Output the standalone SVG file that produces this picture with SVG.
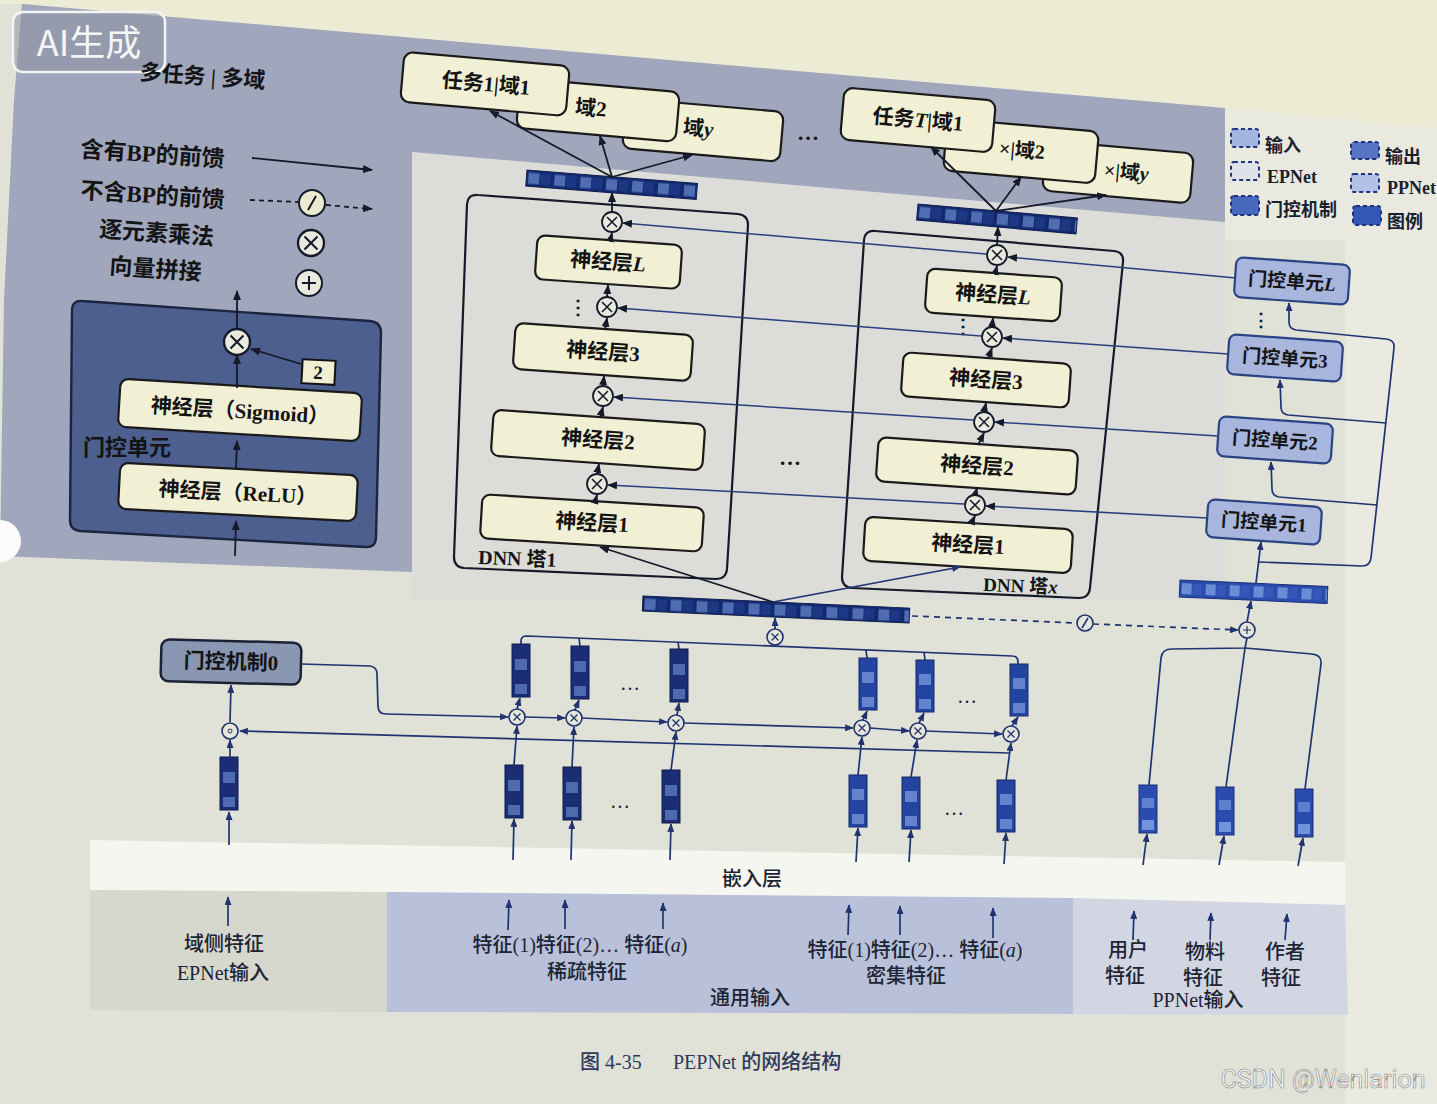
<svg xmlns="http://www.w3.org/2000/svg" width="1437" height="1104" viewBox="0 0 1437 1104">
<defs>
<style>
.t{font-family:"Liberation Serif","Noto Sans CJK SC",serif;font-weight:700;fill:#141414;text-anchor:middle;}
.st{text-anchor:start;}
.lay{fill:#f1f0d4;stroke:#1a1a1a;stroke-width:2.2;}
.gu{fill:#a8b6de;stroke:#2a4383;stroke-width:2.2;}
.ln{fill:none;stroke:#151a2a;stroke-width:1.8;}
.lb{fill:none;stroke:#1f3370;stroke-width:1.7;}
.lg{fill:none;stroke:#27407c;stroke-width:1.5;}
.bt{font-family:"Liberation Serif","Noto Sans CJK SC",serif;font-weight:500;fill:#1d2434;text-anchor:middle;font-size:20px;}
.cap{fill:#2f3a5a;text-anchor:start;}
.lgd{stroke:#1f3580;stroke-width:2;stroke-dasharray:4 3;}
.it{font-style:italic;}
</style>
<marker id="a" viewBox="0 0 10 8" refX="9" refY="4" markerWidth="10" markerHeight="8" orient="auto" markerUnits="userSpaceOnUse"><path d="M0,0 L10,4 L0,8 z" fill="#151a2a"/></marker>
<marker id="b" viewBox="0 0 10 8" refX="9" refY="4" markerWidth="9" markerHeight="7" orient="auto" markerUnits="userSpaceOnUse"><path d="M0,0 L10,4 L0,8 z" fill="#1f3370"/></marker>
<pattern id="pb" width="26" height="17" patternUnits="userSpaceOnUse"><rect width="26" height="17" fill="#142a6e"/><rect x="2" y="2.5" width="11" height="11" fill="#4f6db3"/><rect x="14" y="2.5" width="10" height="11" fill="#1d3785"/></pattern>
<pattern id="pp" width="24" height="17" patternUnits="userSpaceOnUse"><rect width="24" height="17" fill="#2a4cad"/><rect x="2" y="3" width="10" height="11" fill="#6b8bd5"/><rect x="13" y="3" width="9" height="11" fill="#3656b8"/></pattern>
<g id="ot"><circle r="10" fill="#e9e9dd" stroke="#151a2a" stroke-width="1.8"/><path d="M-5,-5 L5,5 M5,-5 L-5,5" stroke="#151a2a" stroke-width="1.6"/></g>
<g id="otb"><circle r="8" fill="#e6e6da" stroke="#1f3370" stroke-width="1.6"/><path d="M-3.5,-3.5 L3.5,3.5 M3.5,-3.5 L-3.5,3.5" stroke="#1f3370" stroke-width="1.3"/></g>
<g id="eS"><rect width="18" height="53" fill="#1b2e75" stroke="#0e1a4a" stroke-width="1"/><rect x="3" y="15" width="12" height="11" fill="#4f6bb0"/><rect x="3" y="40" width="12" height="10" fill="#4f6bb0"/></g>
<g id="eD"><rect width="18" height="52" fill="#2444a2" stroke="#15286a" stroke-width="1"/><rect x="3" y="14" width="12" height="11" fill="#6583cc"/><rect x="3" y="39" width="12" height="10" fill="#6583cc"/></g>
<g id="eP"><rect width="18" height="48" fill="#2a4cae" stroke="#1a2f78" stroke-width="1"/><rect x="3" y="13" width="12" height="10" fill="#5f80cf"/><rect x="3" y="35" width="12" height="10" fill="#7394da"/></g>
</defs>

<!-- background -->
<rect width="1437" height="1104" fill="#e0e1d7"/>
<polygon points="0,0 1437,0 1437,130 1225,108 22,4 0,4" fill="#ecebd3"/>
<polygon points="1225,108 1437,128 1437,1104 1345,1104 1345,240 1225,240" fill="#e9e9e0"/>
<polygon points="412,152 1225,222 1225,600 412,600" fill="#dcddd9"/>
<polygon points="22,4 1225,108 1225,222 412,152 412,572 0,556 4,300 14,100" fill="#a0a6bc"/>
<polygon points="90,840 1345,862 1345,905 90,890" fill="#f6f6f1"/>
<polygon points="90,890 387,892 387,1012 90,1010" fill="#d6d7cd"/>
<polygon points="387,892 1073,898 1073,1014 387,1012" fill="#b8c0da"/>
<polygon points="1073,898 1345,905 1348,1015 1073,1014" fill="#d2d6e2"/>
<circle cx="0" cy="541" r="21" fill="#fbfbfb"/>

<!-- badge -->
<g id="badge"><rect x="13" y="12" width="152" height="60" rx="10" fill="#8a8f9e" fill-opacity="0.5" stroke="#f4f4f4" stroke-width="2.5"/><text x="89" y="56" font-family="Noto Sans CJK SC,sans-serif" font-size="36" fill="#f5f5f5" text-anchor="middle">AI生成</text></g>

<!-- left legend -->
<g id="legend-left">
<text class="t" font-size="22" transform="translate(202,84) rotate(4)">多任务 | 多域</text>
<text class="t" font-size="23" transform="translate(152,162) rotate(4)">含有BP的前馈</text>
<text class="t" font-size="23" transform="translate(152,203) rotate(4)">不含BP的前馈</text>
<text class="t" font-size="23" transform="translate(156,241) rotate(4)">逐元素乘法</text>
<text class="t" font-size="23" transform="translate(155,277) rotate(4)">向量拼接</text>
<line x1="252" y1="158" x2="372" y2="170" class="ln" marker-end="url(#a)"/>
<line x1="250" y1="200" x2="298" y2="202" class="ln" stroke-dasharray="5 4"/>
<circle cx="312" cy="203" r="13" fill="#ecebd0" stroke="#151a2a" stroke-width="2"/>
<line x1="308" y1="210" x2="316" y2="196" stroke="#151a2a" stroke-width="2"/>
<line x1="326" y1="205" x2="372" y2="209" class="ln" stroke-dasharray="5 4" marker-end="url(#a)"/>
<use href="#ot" transform="translate(311,243) scale(1.3)"/>
<circle cx="309" cy="283" r="13" fill="#e9e9dd" stroke="#151a2a" stroke-width="2"/>
<path d="M302,283 L316,283 M309,276 L309,290" stroke="#151a2a" stroke-width="2"/>
</g>

<!-- gate unit detail panel -->
<g id="gate-panel">
<path d="M82,301 L370,321 Q381,322 381,333 L376,537 Q376,548 365,547 L80,531 Q70,530 70,520 L72,311 Q72,300 82,301 Z" fill="#4c5f8e" stroke="#1c2540" stroke-width="2.4"/>
<text class="t" font-size="22" x="127" y="455">门控单元</text>
</g>
<g id="relu" transform="translate(238,492) rotate(3)"><rect x="-119" y="-23" width="238" height="46" rx="8" class="lay"/><text class="t" font-size="21" y="8">神经层（ReLU）</text></g>
<g id="sigmoid" transform="translate(240,410) rotate(3.5)"><rect x="-121" y="-24" width="242" height="48" rx="8" class="lay"/><text class="t" font-size="21" y="8">神经层（Sigmoid）</text></g>
<g id="two" transform="translate(318,372) rotate(3)"><rect x="-16" y="-12" width="33" height="24" fill="#f0efd2" stroke="#111" stroke-width="2"/><text class="t" font-size="19" y="7">2</text></g>
<g id="panel-mul"><use href="#ot" transform="translate(237,342) scale(1.3)"/></g>

<!-- output boxes -->
<g id="out-y" transform="translate(703,130) rotate(5)"><rect x="-79" y="-25" width="158" height="50" rx="9" class="lay"/><text class="t st" font-size="21" x="-20" y="6">域<tspan class="it">y</tspan></text></g>
<g id="out-2" transform="translate(598,110) rotate(5)"><rect x="-80" y="-25" width="160" height="50" rx="9" class="lay"/><text class="t st" font-size="21" x="-23" y="6">域2</text></g>
<g id="out-1" transform="translate(486,84) rotate(5)"><rect x="-84" y="-25" width="166" height="50" rx="9" class="lay"/><text class="t" font-size="21" y="7">任务1|域1</text></g>
<g id="outT-y" transform="translate(1118,172) rotate(5)"><rect x="-74" y="-25" width="148" height="50" rx="9" class="lay"/><text class="t st" font-size="20" x="-14" y="6">×|域<tspan class="it">y</tspan></text></g>
<g id="outT-2" transform="translate(1021,151) rotate(5)"><rect x="-76" y="-26" width="152" height="52" rx="9" class="lay"/><text class="t st" font-size="20" x="-22" y="6">×|域2</text></g>
<g id="outT-1" transform="translate(918,120) rotate(5)"><rect x="-76" y="-26" width="152" height="52" rx="9" class="lay"/><text class="t" font-size="21" y="7">任务<tspan class="it">T</tspan>|域1</text></g>
<text class="t" font-size="22" x="808" y="140">…</text>

<!-- towers -->
<g id="tower1">
<path d="M478,195 L738,214 Q748,215 748,225 L727,569 Q726,579 716,579 L464,568 Q454,567 454,557 L467,204 Q468,194 478,195 Z" fill="none" stroke="#151a2a" stroke-width="2.2"/>
<text class="t st" font-size="20" x="478" y="564" transform="rotate(2 478 564)">DNN 塔1</text>
</g>
<g id="t1L" transform="translate(608,262) rotate(4)"><rect x="-72" y="-22" width="145" height="44" rx="8" class="lay"/><text class="t" font-size="21" y="7">神经层<tspan class="it">L</tspan></text></g>
<g id="t13" transform="translate(603,352) rotate(4)"><rect x="-89" y="-23" width="178" height="46" rx="8" class="lay"/><text class="t" font-size="21" y="7">神经层3</text></g>
<g id="t12" transform="translate(598,440) rotate(4)"><rect x="-106" y="-23" width="212" height="46" rx="8" class="lay"/><text class="t" font-size="21" y="7">神经层2</text></g>
<g id="t11" transform="translate(592,523) rotate(3.5)"><rect x="-111" y="-22" width="222" height="44" rx="8" class="lay"/><text class="t" font-size="21" y="7">神经层1</text></g>
<text class="t" font-size="20" x="578" y="314">⋮</text>

<g id="tower2">
<path d="M875,231 L1114,251 Q1124,252 1123,262 L1090,588 Q1089,598 1079,598 L852,588 Q842,587 842,577 L864,240 Q865,230 875,231 Z" fill="none" stroke="#151a2a" stroke-width="2.2"/>
<text class="t st" font-size="19" x="983" y="591" transform="rotate(2 983 591)">DNN 塔<tspan class="it">x</tspan></text>
</g>
<g id="t2L" transform="translate(993,295) rotate(4)"><rect x="-67" y="-22" width="135" height="44" rx="8" class="lay"/><text class="t" font-size="21" y="7">神经层<tspan class="it">L</tspan></text></g>
<g id="t23" transform="translate(986,380) rotate(4)"><rect x="-84" y="-22" width="168" height="44" rx="8" class="lay"/><text class="t" font-size="21" y="7">神经层3</text></g>
<g id="t22" transform="translate(977,466) rotate(4)"><rect x="-100" y="-22" width="200" height="44" rx="8" class="lay"/><text class="t" font-size="21" y="7">神经层2</text></g>
<g id="t21" transform="translate(968,545) rotate(3.5)"><rect x="-104" y="-22" width="208" height="44" rx="8" class="lay"/><text class="t" font-size="21" y="7">神经层1</text></g>
<text class="t" font-size="20" x="963" y="333">⋮</text>
<text class="t" font-size="22" x="790" y="465">…</text>

<!-- concat bars -->
<g id="bar-t1" transform="translate(527,170) rotate(4.5)"><rect width="171" height="16" fill="url(#pb)" stroke="#0e1c50" stroke-width="1"/></g>
<g id="bar-t2" transform="translate(918,204) rotate(5)"><rect width="160" height="16" fill="url(#pb)" stroke="#0e1c50" stroke-width="1"/></g>
<g id="bar-mid" transform="translate(643,596) rotate(2.6)"><rect width="267" height="15" fill="url(#pb)" stroke="#0e1c50" stroke-width="1"/></g>
<g id="bar-pp" transform="translate(1180,580) rotate(2.5)"><rect width="148" height="17" fill="url(#pp)" stroke="#1a2f78" stroke-width="1"/></g>

<!-- right gate units -->
<g id="guL" transform="translate(1292,281) rotate(4)"><rect x="-57" y="-20" width="114" height="40" rx="7" class="gu"/><text class="t" font-size="19" y="7">门控单元<tspan class="it">L</tspan></text></g>
<g id="gu3" transform="translate(1285,358) rotate(4)"><rect x="-57" y="-20" width="114" height="40" rx="7" class="gu"/><text class="t" font-size="19" y="7">门控单元3</text></g>
<g id="gu2" transform="translate(1275,440) rotate(4)"><rect x="-57" y="-20" width="114" height="40" rx="7" class="gu"/><text class="t" font-size="19" y="7">门控单元2</text></g>
<g id="gu1" transform="translate(1264,522) rotate(4)"><rect x="-57" y="-19" width="114" height="38" rx="7" class="gu"/><text class="t" font-size="19" y="7">门控单元1</text></g>
<text class="t" font-size="18" x="1261" y="326">⋮</text>

<!-- right legend -->
<g id="legend-right" font-family="Liberation Serif,Noto Sans CJK SC,serif" font-size="18" font-weight="700" fill="#1a1f30">
<rect x="1231" y="129" width="28" height="18" rx="3" fill="#a4b6e0" class="lgd"/><text x="1265" y="152">输入</text>
<rect x="1231" y="162" width="28" height="18" rx="3" fill="#dfe2ea" class="lgd"/><text x="1267" y="183">EPNet</text>
<rect x="1231" y="196" width="28" height="19" rx="3" fill="#4768bd" class="lgd"/><text x="1265" y="216">门控机制</text>
<rect x="1351" y="142" width="28" height="17" rx="3" fill="#5673c4" class="lgd"/><text x="1385" y="163">输出</text>
<rect x="1351" y="174" width="28" height="18" rx="3" fill="#b3c1e6" class="lgd"/><text x="1387" y="194">PPNet</text>
<rect x="1353" y="206" width="28" height="19" rx="3" fill="#3658b5" class="lgd"/><text x="1387" y="228">图例</text>
</g>

<!-- bottom nodes -->
<g id="gate0" transform="translate(231,662) rotate(1.5)"><rect x="-70" y="-21" width="140" height="42" rx="8" fill="#8a97b3" stroke="#1c2233" stroke-width="2.5"/><text class="t" font-size="21" y="7">门控机制0</text></g>
<g id="emb-ep"><use href="#eS" x="220" y="757"/></g>
<g id="emb-sparse">
<use href="#eS" x="512" y="644"/><use href="#eS" x="571" y="646"/><use href="#eS" x="670" y="649"/>
<use href="#eS" x="505" y="765"/><use href="#eS" x="563" y="767"/><use href="#eS" x="662" y="770"/>
</g>
<g id="emb-dense">
<use href="#eD" x="859" y="658"/><use href="#eD" x="916" y="660"/><use href="#eD" x="1010" y="664"/>
<use href="#eD" x="849" y="775"/><use href="#eD" x="902" y="777"/><use href="#eD" x="997" y="780"/>
</g>
<g id="emb-pp"><use href="#eP" x="1139" y="785"/><use href="#eP" x="1216" y="787"/><use href="#eP" x="1295" y="789"/></g>
<text class="bt" x="630" y="690">…</text><text class="bt" x="620" y="808">…</text>
<text class="bt" x="967" y="703">…</text><text class="bt" x="954" y="815">…</text>

<!-- connectors -->
<g id="connectors">
<line x1="235" y1="556" x2="236" y2="521" class="ln" marker-end="url(#a)"/>
<line x1="236" y1="469" x2="237" y2="441" class="ln" marker-end="url(#a)"/>
<line x1="237" y1="388" x2="237" y2="355" class="ln" marker-end="url(#a)"/>
<line x1="237" y1="329" x2="237" y2="291" class="ln" marker-end="url(#a)"/>
<line x1="301" y1="364" x2="251" y2="349" class="ln" marker-end="url(#a)"/>
<line x1="612" y1="177" x2="490" y2="111" class="ln" marker-end="url(#a)"/>
<line x1="612" y1="177" x2="600" y2="136" class="ln" marker-end="url(#a)"/>
<line x1="612" y1="177" x2="692" y2="155" class="ln" marker-end="url(#a)"/>
<line x1="996" y1="211" x2="931" y2="147" class="ln" marker-end="url(#a)"/>
<line x1="996" y1="211" x2="1021" y2="177" class="ln" marker-end="url(#a)"/>
<line x1="996" y1="211" x2="1106" y2="195" class="ln" marker-end="url(#a)"/>
<line x1="612" y1="212" x2="612" y2="193" class="ln" marker-end="url(#a)"/>
<line x1="610" y1="241" x2="612" y2="233" class="ln" marker-end="url(#a)"/>
<line x1="607" y1="297" x2="608" y2="285" class="ln" marker-end="url(#a)"/>
<line x1="605" y1="330" x2="607" y2="318" class="ln" marker-end="url(#a)"/>
<line x1="603" y1="386" x2="604" y2="376" class="ln" marker-end="url(#a)"/>
<line x1="600" y1="418" x2="603" y2="407" class="ln" marker-end="url(#a)"/>
<line x1="597" y1="474" x2="599" y2="464" class="ln" marker-end="url(#a)"/>
<line x1="595" y1="502" x2="597" y2="495" class="ln" marker-end="url(#a)"/>
<line x1="997" y1="245" x2="998" y2="227" class="ln" marker-end="url(#a)"/>
<line x1="995" y1="274" x2="997" y2="266" class="ln" marker-end="url(#a)"/>
<line x1="992" y1="327" x2="993" y2="318" class="ln" marker-end="url(#a)"/>
<line x1="988" y1="359" x2="992" y2="348" class="ln" marker-end="url(#a)"/>
<line x1="984" y1="412" x2="986" y2="403" class="ln" marker-end="url(#a)"/>
<line x1="978" y1="445" x2="984" y2="433" class="ln" marker-end="url(#a)"/>
<line x1="975" y1="495" x2="977" y2="488" class="ln" marker-end="url(#a)"/>
<line x1="971" y1="524" x2="975" y2="516" class="ln" marker-end="url(#a)"/>
<line x1="1236" y1="278" x2="1008" y2="257" class="lg" marker-end="url(#a)"/>
<line x1="986" y1="254" x2="623" y2="223" class="lg" marker-end="url(#a)"/>
<line x1="1228" y1="354" x2="1003" y2="338" class="lg" marker-end="url(#a)"/>
<line x1="981" y1="336" x2="618" y2="308" class="lg" marker-end="url(#a)"/>
<line x1="1218" y1="436" x2="995" y2="422" class="lg" marker-end="url(#a)"/>
<line x1="973" y1="420" x2="614" y2="397" class="lg" marker-end="url(#a)"/>
<line x1="1207" y1="518" x2="986" y2="506" class="lg" marker-end="url(#a)"/>
<line x1="964" y1="504" x2="608" y2="485" class="lg" marker-end="url(#a)"/>
<line x1="773" y1="602" x2="600" y2="547" class="ln" marker-end="url(#a)"/>
<line x1="773" y1="602" x2="960" y2="567" class="lb" marker-end="url(#b)"/>
<line x1="775" y1="629" x2="775" y2="618" class="lb" marker-end="url(#b)"/>
<line x1="912" y1="616" x2="1077" y2="623" class="lb" stroke-dasharray="6 5"/>
<circle cx="1085" cy="623" r="8" fill="#e6e6da" stroke="#1f3370" stroke-width="1.6"/>
<line x1="1082" y1="628" x2="1088" y2="618" stroke="#1f3370" stroke-width="1.6"/>
<line x1="1093" y1="624" x2="1238" y2="630" class="lb" stroke-dasharray="6 5" marker-end="url(#b)"/>
<line x1="1247" y1="622" x2="1251" y2="601" class="lb" marker-end="url(#b)"/>
<line x1="1256" y1="583" x2="1261" y2="542" class="lb" marker-end="url(#b)"/>
<path d="M1259,562 L1362,566 Q1370,566 1371,558 L1394,348 Q1395,340 1386,339 L1296,330 Q1289,329 1289,322 L1289,303" class="lb" marker-end="url(#b)"/>
<path d="M1377,505 L1279,497 Q1272,496 1272,489 L1271,462" class="lb" marker-end="url(#b)"/>
<path d="M1386,423 L1288,415 Q1281,414 1281,407 L1280,380" class="lb" marker-end="url(#b)"/>
<path d="M1247,638 L1245,648 L1172,649 Q1162,649 1161,658 L1149,785" class="lb"/>
<path d="M1245,648 L1226,787" class="lb"/>
<path d="M1245,648 L1312,654 Q1322,655 1321,664 L1305,789" class="lb"/>
<line x1="229" y1="845" x2="229" y2="812" class="lb" marker-end="url(#b)"/>
<line x1="230" y1="757" x2="230" y2="740" class="lb" marker-end="url(#b)"/>
<line x1="230" y1="722" x2="231" y2="685" class="lb" marker-end="url(#b)"/>
<path d="M301,664 L370,666 Q377,667 377,674 L378,706 Q378,714 386,714 L508,717" class="lb" marker-end="url(#b)"/>
<line x1="525" y1="717" x2="565" y2="718" class="lb" marker-end="url(#b)"/>
<line x1="582" y1="718" x2="667" y2="722" class="lb" marker-end="url(#b)"/>
<line x1="684" y1="723" x2="853" y2="728" class="lb" marker-end="url(#b)"/>
<line x1="870" y1="728" x2="909" y2="731" class="lb" marker-end="url(#b)"/>
<line x1="926" y1="731" x2="1002" y2="734" class="lb" marker-end="url(#b)"/>
<line x1="1009" y1="753" x2="240" y2="731" class="lb" marker-end="url(#b)"/>
<path d="M521,644 L521,641 Q521,636 527,636 L1012,656 Q1018,656 1018,662 L1018,665" class="lb"/>
<path d="M579,638 L580,646 M678,642 L679,649 M866,650 L867,658 M924,652 L925,660" class="lb"/>
<line x1="514" y1="765" x2="517" y2="726" class="lb" marker-end="url(#b)"/>
<line x1="517" y1="709" x2="520" y2="698" class="lb" marker-end="url(#b)"/>
<line x1="572" y1="767" x2="574" y2="727" class="lb" marker-end="url(#b)"/>
<line x1="575" y1="710" x2="579" y2="700" class="lb" marker-end="url(#b)"/>
<line x1="671" y1="770" x2="676" y2="732" class="lb" marker-end="url(#b)"/>
<line x1="677" y1="715" x2="679" y2="703" class="lb" marker-end="url(#b)"/>
<line x1="858" y1="775" x2="862" y2="737" class="lb" marker-end="url(#b)"/>
<line x1="863" y1="720" x2="867" y2="711" class="lb" marker-end="url(#b)"/>
<line x1="911" y1="777" x2="917" y2="740" class="lb" marker-end="url(#b)"/>
<line x1="919" y1="723" x2="924" y2="713" class="lb" marker-end="url(#b)"/>
<line x1="1006" y1="780" x2="1011" y2="743" class="lb" marker-end="url(#b)"/>
<line x1="1012" y1="726" x2="1018" y2="717" class="lb" marker-end="url(#b)"/>
<line x1="513" y1="860" x2="514" y2="819" class="lb" marker-end="url(#b)"/>
<line x1="571" y1="860" x2="572" y2="821" class="lb" marker-end="url(#b)"/>
<line x1="670" y1="860" x2="671" y2="824" class="lb" marker-end="url(#b)"/>
<line x1="856" y1="862" x2="858" y2="828" class="lb" marker-end="url(#b)"/>
<line x1="909" y1="862" x2="911" y2="830" class="lb" marker-end="url(#b)"/>
<line x1="1004" y1="864" x2="1006" y2="833" class="lb" marker-end="url(#b)"/>
<line x1="1143" y1="865" x2="1147" y2="834" class="lb" marker-end="url(#b)"/>
<line x1="1219" y1="865" x2="1224" y2="836" class="lb" marker-end="url(#b)"/>
<line x1="1298" y1="866" x2="1303" y2="838" class="lb" marker-end="url(#b)"/>
<line x1="228" y1="926" x2="228" y2="897" class="lb" marker-end="url(#b)"/>
<line x1="508" y1="930" x2="509" y2="900" class="lb" marker-end="url(#b)"/>
<line x1="565" y1="929" x2="565" y2="900" class="lb" marker-end="url(#b)"/>
<line x1="663" y1="929" x2="663" y2="903" class="lb" marker-end="url(#b)"/>
<line x1="848" y1="935" x2="849" y2="905" class="lb" marker-end="url(#b)"/>
<line x1="900" y1="935" x2="900" y2="906" class="lb" marker-end="url(#b)"/>
<line x1="993" y1="938" x2="993" y2="908" class="lb" marker-end="url(#b)"/>
<line x1="1133" y1="940" x2="1134" y2="911" class="lb" marker-end="url(#b)"/>
<line x1="1210" y1="940" x2="1211" y2="913" class="lb" marker-end="url(#b)"/>
<line x1="1285" y1="940" x2="1287" y2="914" class="lb" marker-end="url(#b)"/>
</g>

<!-- operators -->
<g id="ops">
<use href="#ot" x="612" y="222"/><use href="#ot" x="607" y="307"/><use href="#ot" x="603" y="396"/><use href="#ot" x="597" y="484"/>
<use href="#ot" x="997" y="255"/><use href="#ot" x="992" y="337"/><use href="#ot" x="984" y="422"/><use href="#ot" x="975" y="505"/>
<use href="#otb" x="775" y="637"/>
<use href="#otb" x="517" y="717"/><use href="#otb" x="574" y="718"/><use href="#otb" x="676" y="723"/>
<use href="#otb" x="862" y="728"/><use href="#otb" x="918" y="731"/><use href="#otb" x="1011" y="734"/>
<circle cx="230" cy="731" r="8" fill="#e6e6da" stroke="#1f3370" stroke-width="1.6"/><circle cx="230" cy="731" r="2" fill="none" stroke="#1f3370" stroke-width="1"/>
<circle cx="1247" cy="630" r="8" fill="#e6e6da" stroke="#1f3370" stroke-width="1.6"/><path d="M1243,630 L1251,630 M1247,626 L1247,634" stroke="#1f3370" stroke-width="1.2"/>
</g>

<!-- bottom labels -->
<g id="labels">
<text class="bt" font-size="21" x="224" y="951">域侧特征</text>
<text class="bt" x="223" y="980">EPNet输入</text>
<text class="bt" x="580" y="952">特征(1)特征(2)… 特征(<tspan class="it">a</tspan>)</text>
<text class="bt" x="587" y="979">稀疏特征</text>
<text class="bt" x="915" y="957">特征(1)特征(2)… 特征(<tspan class="it">a</tspan>)</text>
<text class="bt" x="906" y="983">密集特征</text>
<text class="bt" x="750" y="1005">通用输入</text>
<text class="bt" x="752" y="886">嵌入层</text>
<text class="bt" font-size="19" x="1128" y="957">用户</text>
<text class="bt" font-size="19" x="1125" y="983">特征</text>
<text class="bt" font-size="19" x="1205" y="959">物料</text>
<text class="bt" font-size="19" x="1203" y="985">特征</text>
<text class="bt" font-size="19" x="1285" y="959">作者</text>
<text class="bt" font-size="19" x="1281" y="985">特征</text>
<text class="bt" font-size="18" x="1198" y="1007">PPNet输入</text>
<text class="bt cap" font-size="20" x="580" y="1069">图 4-35</text>
<text class="bt cap" font-size="20" x="673" y="1069">PEPNet 的网络结构</text>
<text x="1323" y="1088" font-family="Roboto,Liberation Sans,sans-serif" font-size="25" fill="#f3f3f3" stroke="#8a8a8a" stroke-width="0.6" text-anchor="middle">CSDN @Wenlarion</text>
</g>
</svg>
